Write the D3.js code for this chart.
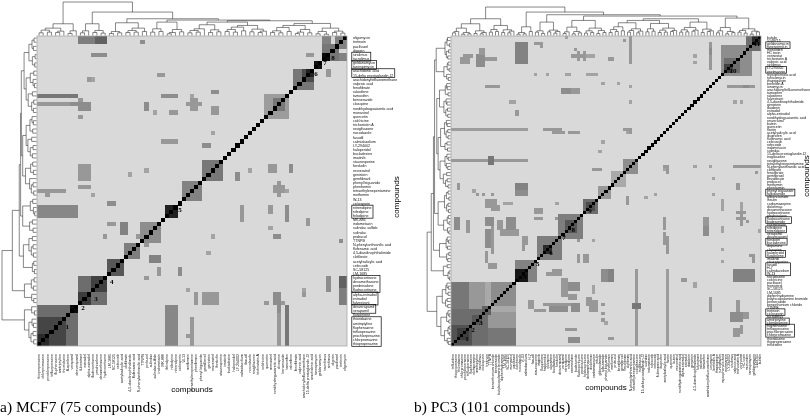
<!DOCTYPE html>
<html>
<head>
<meta charset="utf-8">
<script src="https://cdn.jsdelivr.net/npm/d3@7"></script>
<style>
body { margin: 0; background: #fff; }
svg { display: block; filter: grayscale(1); }
</style>
</head>
<body>
<svg id="chart" width="810" height="419"></svg>
<script>
// compound names, top row first
var namesA = ["oligomycin","tretinoin","paclitaxel","digoxin","sirolimus","tacrolimus","geldanamycin",
  "tanespimycin","arachidonic acid","15-delta prostaglandin J2","arachidonyltrifluoromethane","valproic acid",
  "fenofibrate","raloxifene","tamoxifen","benserazide","clozapine","nordihydroguaiaretic acid","monastrol",
  "quercetin","colchicine","trichostatin A","rosiglitazone","nocodazole","fasudil","calmidazolium",
  "LY-294002","haloperidol","bucladesine","imatinib","staurosporine","forskolin","resveratrol","genistein",
  "gemfibrozil","phenyl biguanide","phenformin","tetraethylenepentamine","metformin","W-13","ciclosporin",
  "nitrendipine","nifedipine","felodipine","MK-886","indometacin","sulindac sulfide","sulindac","probucol",
  "TTNPB","N-phenylanthranilic acid","flufenamic acid","4,5-dianilinophthalimide","clofibrate",
  "acetylsalicylic acid","celecoxib","SC-58125","LM-1685","hydrocortisone","dexamethasone","prednisolone",
  "fludrocortisone","alpha-estradiol","estradiol","fulvestrant","dexverapamil","verapamil","fluspirilene",
  "thioridazine","amitriptyline","fluphenazine","trifluoperazine","prochlorperazine","chlorpromazine",
  "thioproperazine"];
var namesB = ["bufalin","5149715","geldanamycin","tanespimycin","monorden","HC toxin","vorinostat",
  "trichostatin A","valproic acid","sirolimus","LY-294002","wortmannin","mycophenolic acid","tunicamycin",
  "thapsigargin","brefeldin A","ionomycin","arachidonyltrifluoromethane","tamoxifen","raloxifene",
  "fulvestrant","4,5-dianilinophthalimide","genistein","daidzein","estradiol","alpha-estradiol",
  "nordihydroguaiaretic acid","resveratrol","butein","quercetin","fisetin","acetylsalicylic acid",
  "ibuprofen","flufenamic acid","celecoxib","rofecoxib","indometacin","sulindac","15-delta prostaglandin J2",
  "troglitazone","rosiglitazone","tetraethylenepentamine","N-phenylanthranilic acid","clofibrate",
  "fenofibrate","gemfibrozil","bezafibrate","probucol","metformin","phenformin","phenyl biguanide",
  "tolbutamide","glibenclamide","insulin","carbamazepine","diclofenac","dexamethasone","hydrocortisone",
  "prednisolone","fludrocortisone","budesonide","exemestane","nifedipine","nitrendipine","verapamil",
  "dexverapamil","forskolin","bucladesine","dopamine","clozapine","haloperidol","fluspirilene","imatinib",
  "staurosporine","fasudil","H-7","calmidazolium","W-13","nocodazole","colchicine","paclitaxel",
  "monastrol","SC-58125","LM-1685","diphenhydramine","butylscopolamine bromide","benserazide",
  "benzethonium chloride","TTNPB","tretinoin","ciclosporin","tacrolimus","amitriptyline","clomipramine",
  "fluphenazine","trifluoperazine","prochlorperazine","chlorpromazine","thioridazine","thioproperazine",
  "trifluridine"];

// dendrograms: leaves (x) left to right, merge height after ")" (root = 100)
var treeA = "(((((x,x)8,(x,x)10)16,((x,x)9,x)13)22,((x,x)6,x)14)35," +
  "((((x,x)8,x)14,((x,x)9,(x,x)7)15)35," +
  "((((x,x)6,(x,x)8)12,(((x,x)9,(x,x)10)15,(x,x)12)22)38," +
  "((((x,x)10,(x,x)12)20,(((x,x)5,x)9,(x,x)11)18)40," +
  "((((((x,x)8,(x,x)10)15,x)20,((x,x)9,(x,x)11)17)32,((((x,x)12,(x,x)10)18,(x,x)14)25,((x,x)11,((x,x)9,x)13)19)30)40," +
  "(((((x,x)9,(x,x)8)14,(x,x)12)24,(((x,x)6,x)10,(x,x)8)18)30,(((x,x)5,(x,x)4)12,((x,x)9,(x,x)7)13)22)36)44)46)50)70)100";
var treeB = "((((((x,x)8,x)12,((x,x)4,(x,x)5)9)22,((x,x)6,((x,x)5,x)9)14)35," +
  "(((x,x)10,(x,x)12)18,((x,x)9,((x,x)8,x)13)17)30)50," +
  "((((x,x)4,(x,x)5)9,(x,x)12)26," +
  "((((x,x)10,(x,x)6)14,((x,x)11,((x,x)7,x)12)16)40," +
  "(((((x,x)6,x)11,((x,x)5,(x,x)8)12)25,(((x,x)7,(x,x)9)14,((x,x)6,(x,x)9)15)22)45," +
  "((((((x,x)9,(x,x)12)18,(x,x)14)26,(((x,x)10,x)15,((x,x)8,x)13)20)38," +
  "(((x,x)11,(x,x)13)20,(((x,x)9,(x,x)10)16,((x,x)12,x)15)22)36)45," +
  "((((x,x)10,(x,x)11)17,((x,x)13,x)16)24,((x,x)9,((x,x)12,x)14)19)40)50," +
  "((((x,x)8,x)14,((x,x)5,(x,x)9)12)24,(((x,x)10,(x,x)7)15,((x,x)4,(x,x)11)13)20)52)58)62)70)85)100";

// squares on the diagonal: [first, last, value]
var blocksA = [[0,9,0.5],[0,6,0.68],[0,2,0.8],[8,9,0.95],[10,16,0.5],[10,12,0.72],[13,16,0.7],
  [17,20,0.6],[21,24,0.42],[25,29,0.35],[31,33,0.85],[35,39,0.4],[40,44,0.45],[55,60,0.28],
  [57,59,0.45],[62,66,0.45],[64,66,0.65],[65,66,0.85],[67,68,0.92],[69,72,0.45],[69,70,0.95],[72,74,0.4]];
// off-diagonal patches: [col0, col1, row0, row1, value], drawn on both sides
var patchesA = [[10,13,73,74,0.42],[14,16,73,74,0.55],[14,16,70,70,0.3],[25,25,73,73,0.25],
  [0,9,60,60,0.45],[0,7,58,58,0.3],[8,9,58,58,0.35],[0,6,37,37,0.3],[2,2,36,36,0.25],[0,9,31,33,0.38],
  [13,13,64,64,0.25],[29,30,65,65,0.3],[42,43,61,61,0.35],[31,33,60,60,0.3],[37,37,60,60,0.25],
  [10,10,59,59,0.25],[10,12,57,58,0.35],[10,10,55,55,0.25],[26,26,57,58,0.3],[28,28,56,56,0.25],
  [32,33,56,56,0.3],[36,39,58,58,0.3],[37,38,57,59,0.3],[42,43,57,57,0.3],[65,66,70,70,0.3],
  [69,70,73,74,0.4],[42,42,51,51,0.25],[30,33,49,49,0.3],[40,41,48,48,0.35],[10,12,40,43,0.3],
  [22,22,41,41,0.25],[26,26,42,42,0.25],[10,12,38,38,0.3],[13,13,36,36,0.25],[17,18,34,34,0.35],
  [17,18,29,29,0.3],[20,21,27,29,0.35],[16,16,26,26,0.3],[24,24,26,26,0.3],[26,26,24,24,0.25],
  [27,29,20,21,0.4],[29,29,17,18,0.3],[34,34,17,18,0.3],[41,41,22,22,0.25],[42,42,26,26,0.25],
  [48,48,40,41,0.3],[51,51,42,42,0.25],[56,57,42,43,0.3],[61,61,42,43,0.3],[57,59,38,38,0.3],
  [58,58,36,39,0.3],[60,60,37,37,0.25],[49,49,30,33,0.3],[56,56,32,33,0.3],[60,60,30,33,0.35],
  [65,65,29,30,0.3],[56,56,28,28,0.25],[57,58,26,26,0.35],[73,73,25,25,0.35],[70,70,13,16,0.35],
  [64,64,12,12,0.3],[26,26,16,16,0.25],[36,36,13,13,0.25],[38,38,10,12,0.3],[40,43,10,12,0.25],
  [55,55,10,10,0.3],[57,57,10,12,0.35],[58,59,10,10,0.3],[36,36,2,2,0.3]];

var blocksB = [[0,20,0.22],[0,11,0.5],[0,6,0.62],[2,5,0.72],[7,9,0.6],[10,12,0.55],[13,20,0.35],
  [21,27,0.4],[21,24,0.9],[28,35,0.42],[30,32,0.8],[35,42,0.42],[37,40,0.6],[43,47,0.5],[44,46,0.65],
  [48,51,0.3],[52,56,0.22],[56,60,0.35],[88,97,0.35],[89,93,0.5],[89,91,0.7],[96,100,0.5],[98,100,0.8]];
var patchesB = [[11,20,0,5,0.45],[0,10,12,20,0.3],[21,24,92,98,0.4],[29,29,97,97,0.3],[3,5,92,93,0.3],
  [8,10,91,94,0.35],[39,43,94,94,0.3],[41,41,93,95,0.3],[58,58,92,100,0.3],[37,37,100,100,0.25],
  [84,84,90,97,0.3],[44,46,94,94,0.25],[79,79,94,94,0.25],[11,15,84,84,0.3],[36,38,82,83,0.35],
  [0,24,70,70,0.28],[30,35,70,70,0.3],[56,58,70,70,0.3],[90,90,84,84,0.3],[93,93,84,84,0.3],
  [95,96,84,84,0.35],[98,98,84,84,0.3],[27,27,88,88,0.25],[37,38,88,88,0.25],[21,21,75,76,0.3],
  [49,49,85,85,0.25],[92,92,79,79,0.25],[48,48,63,63,0.25],[16,16,60,60,0.25],[0,24,60,60,0.3],
  [69,69,58,58,0.3],[79,79,58,58,0.25],[84,84,58,58,0.25],[93,100,58,58,0.3],[69,69,57,57,0.25],
  [99,99,56,56,0.3],[85,85,54,54,0.25],[2,2,51,52,0.3],[21,24,51,52,0.4],[93,93,51,52,0.3],
  [8,8,49,49,0.3],[10,10,49,49,0.3],[13,13,49,49,0.3],[66,66,49,49,0.25],[57,57,46,48,0.3],
  [88,88,44,47,0.25],[27,29,43,44,0.3],[93,95,43,43,0.3],[1,2,38,41,0.35],[11,13,39,41,0.35],
  [15,16,38,40,0.3],[18,20,38,41,0.35],[69,69,38,41,0.3],[82,83,38,41,0.3],[96,96,40,40,0.3],
  [11,12,32,37,0.35],[24,24,33,35,0.3],[41,41,34,34,0.3],[46,46,34,34,0.25],[69,69,33,36,0.3],
  [88,88,31,31,0.25],[11,11,27,30,0.3],[41,41,27,29,0.3],[98,98,27,29,0.3],[31,35,23,23,0.3],
  [49,50,21,24,0.35],[36,37,16,21,0.3],[39,40,18,19,0.3],[44,45,13,15,0.3],[46,46,17,19,0.25],
  [59,61,12,13,0.45],[79,79,19,20,0.25],[93,93,11,14,0.3],[94,96,9,10,0.3],[94,94,4,6,0.3],
  [37,40,5,5,0.3],[50,50,7,7,0.25],[30,38,13,13,0.3],[25,26,12,14,0.3],[45,47,11,14,0.3]];

// cluster numbers: [label, column, row index]
var clustersA = [["1",7.3,4.6],["2",11.1,9.2],["3",14.3,11.6],["4",18.1,15.7],["5",34.6,32.9],
  ["6",67.5,66],["7",69.7,68.5],["8",71.6,69.9]];
var clustersB = [["1",5.2,2.3],["2",7.2,5.5],["3",9.8,7.8],["4",24.1,22.5],["5",28.3,26.7],
  ["6",32.6,30.6],["7",36.8,35.2],["8",39.8,37.8],["9",45.3,44],["10",91.9,89.9],["11",99.7,98.7]];

// boxed groups of row labels: [first, last] row index
var boxesA = [[69,70],[67,68],[65,66],[31,33],[13,16],[10,12],[8,9],[0,6]];
var boxesB = [[97,98],[89,90],[49,50],[40,41],[37,38],[33,34],[29,30],[23,26],[10,11],[7,8],[3,6]];

var svg = d3.select("#chart");
svg.append("rect").attr("width", 810).attr("height", 419).attr("fill", "#fff");

var color = d3.scaleLinear().domain([0, 1]).range(["#d9d9d9", "#000"]);

// turns the tree string into nested nodes
function parseTree(s) {
    var pos = 0, leaf = 0;
    function node() {
        if (s[pos] == "x") { pos++; return {leaf: leaf++, h: 0}; }
        pos++;
        var kids = [];
        while (true) {
            kids.push(node());
            if (s[pos] == ",") { pos++; continue; }
            pos++;
            break;
        }
        var num = "";
        while (pos < s.length && /[0-9.]/.test(s[pos])) num += s[pos++];
        return {children: kids, h: +num};
    }
    return node();
}

function drawPanel(cfg) {
    var n = cfg.names.length;
    var leafNames = cfg.names.slice().reverse();   // index 0 = left column = bottom row
    var g = svg.append("g");

    var xs = d3.scaleLinear().domain([0, n]).range([cfg.x0, cfg.x0 + cfg.size]);
    var ys = d3.scaleLinear().domain([0, n]).range([cfg.y0 + cfg.size, cfg.y0]);

    // matrix
    var m = [];
    for (var i = 0; i < n; i++) m.push(new Array(n).fill(0));
    cfg.blocks.forEach(function(b) {
        for (var i = b[0]; i <= b[1]; i++)
            for (var j = b[0]; j <= b[1]; j++) m[i][j] = Math.max(m[i][j], b[2]);
    });
    cfg.patches.forEach(function(p) {
        for (var i = p[0]; i <= p[1]; i++)
            for (var j = p[2]; j <= p[3]; j++) {
                m[i][j] = Math.max(m[i][j], p[4]);
                m[j][i] = Math.max(m[j][i], p[4]);
            }
    });
    for (var k = 0; k < n; k++) m[k][k] = 1;
    var cells = [];
    for (var i = 0; i < n; i++)
        for (var j = 0; j < n; j++)
            if (m[i][j] > 0) cells.push({i: i, j: j, v: m[i][j]});

    g.append("rect")
        .attr("x", xs(0)).attr("y", ys(n))
        .attr("width", xs(n) - xs(0)).attr("height", ys(0) - ys(n))
        .attr("fill", color(0));
    g.append("g").attr("shape-rendering", "crispEdges")
        .selectAll("rect").data(cells).join("rect")
        .attr("x", function(d) { return xs(d.i); })
        .attr("y", function(d) { return ys(d.j + 1); })
        .attr("width", xs(1) - xs(0) + 0.15)
        .attr("height", ys(0) - ys(1) + 0.15)
        .attr("fill", function(d) { return color(d.v); });
    g.append("rect")
        .attr("x", xs(0)).attr("y", ys(n))
        .attr("width", xs(n) - xs(0)).attr("height", ys(0) - ys(n))
        .attr("fill", "none").attr("stroke", "#a8a8a8").attr("stroke-width", 0.8);

    // dendrograms (same tree for rows and columns)
    var root = d3.hierarchy(parseTree(cfg.tree));
    root.eachAfter(function(d) {
        if (!d.children) d.pos = d.data.leaf + 0.5;
        else d.pos = (d.children[0].pos + d.children[d.children.length - 1].pos) / 2;
    });
    var inner = root.descendants().filter(function(d) { return d.children; });
    var hy = d3.scaleLinear().domain([0, 100]).range([cfg.y0 - 0.5, 2]);
    var hx = d3.scaleLinear().domain([0, 100]).range([cfg.x0 - 0.5, cfg.dendroLeft]);

    g.append("g").selectAll("path").data(inner).join("path")
        .attr("d", function(d) {
            var a = d.children[0], b = d.children[d.children.length - 1];
            return "M" + xs(a.pos) + "," + hy(a.data.h) + "V" + hy(d.data.h) +
                   "H" + xs(b.pos) + "V" + hy(b.data.h);
        })
        .attr("fill", "none").attr("stroke", "#222").attr("stroke-width", 0.55);
    g.append("g").selectAll("path").data(inner).join("path")
        .attr("d", function(d) {
            var a = d.children[0], b = d.children[d.children.length - 1];
            return "M" + hx(a.data.h) + "," + ys(a.pos) + "H" + hx(d.data.h) +
                   "V" + ys(b.pos) + "H" + hx(b.data.h);
        })
        .attr("fill", "none").attr("stroke", "#222").attr("stroke-width", 0.55);

    // row labels
    var lx = xs(n) + 6;
    var rowText = g.append("g")
        .attr("font-family", "Liberation Sans, Arial, sans-serif")
        .attr("font-size", cfg.fontSize).attr("fill", "#111")
        .selectAll("text").data(leafNames).join("text")
        .attr("x", lx)
        .attr("y", function(d, i) { return ys(i + 0.5); })
        .attr("dy", "0.35em")
        .text(function(d) { return d; });

    // column labels
    var ly = ys(0) + 8;
    g.append("g")
        .attr("font-family", "Liberation Sans, Arial, sans-serif")
        .attr("font-size", cfg.fontSize).attr("fill", "#111")
        .selectAll("text").data(leafNames).join("text")
        .attr("transform", function(d, i) { return "translate(" + xs(i + 0.5) + "," + ly + ") rotate(-90)"; })
        .attr("dy", "0.35em")
        .attr("text-anchor", "end")
        .text(function(d) { return d; });

    // boxes round the labels of each cluster
    var widths = rowText.nodes().map(function(t) { return t.getComputedTextLength(); });
    g.append("g").selectAll("rect").data(cfg.boxes).join("rect")
        .attr("x", lx - 1.2)
        .attr("y", function(b) { return ys(b[1] + 1) - 0.3; })
        .attr("width", function(b) { return d3.max(widths.slice(b[0], b[1] + 1)) + 2.6; })
        .attr("height", function(b) { return ys(b[0]) - ys(b[1] + 1) + 0.6; })
        .attr("fill", "none").attr("stroke", "#000").attr("stroke-width", 0.7);

    // cluster numbers
    g.append("g")
        .attr("font-family", "Liberation Serif, Times New Roman, serif")
        .attr("font-size", 7).attr("font-weight", "bold")
        .selectAll("text").data(cfg.clusters).join("text")
        .attr("x", function(d) { return xs(d[1]); })
        .attr("y", function(d) { return ys(d[2]); })
        .attr("dy", "0.35em")
        .attr("text-anchor", "middle")
        .text(function(d) { return d[0]; });

    // axis titles
    var titles = g.append("g")
        .attr("font-family", "Liberation Sans, Arial, sans-serif").attr("font-size", 8);
    titles.append("text")
        .attr("x", (xs(0) + xs(n)) / 2).attr("y", cfg.xTitleY)
        .attr("text-anchor", "middle")
        .text("compounds");
    titles.append("text")
        .attr("transform", "translate(" + cfg.yTitleX + "," + cfg.yTitleY + ") rotate(-90)")
        .attr("text-anchor", "middle")
        .text("compounds");

    // caption
    g.append("text")
        .attr("x", cfg.capX).attr("y", 412)
        .attr("font-family", "Liberation Serif, Times New Roman, serif").attr("font-size", 15.5)
        .text(cfg.caption);
}

drawPanel({x0: 37, y0: 36, size: 310, dendroLeft: 2, fontSize: 3.6,
    names: namesA, tree: treeA, blocks: blocksA, patches: patchesA,
    clusters: clustersA, boxes: boxesA, xTitleY: 392, yTitleX: 399, yTitleY: 197,
    capX: 0, caption: "a) MCF7 (75 compounds)"});
drawPanel({x0: 451, y0: 36, size: 310, dendroLeft: 423, fontSize: 3.5,
    names: namesB, tree: treeB, blocks: blocksB, patches: patchesB,
    clusters: clustersB, boxes: boxesB, xTitleY: 390, yTitleX: 809, yTitleY: 176,
    capX: 414, caption: "b) PC3 (101 compounds)"});
</script>
</body>
</html>
